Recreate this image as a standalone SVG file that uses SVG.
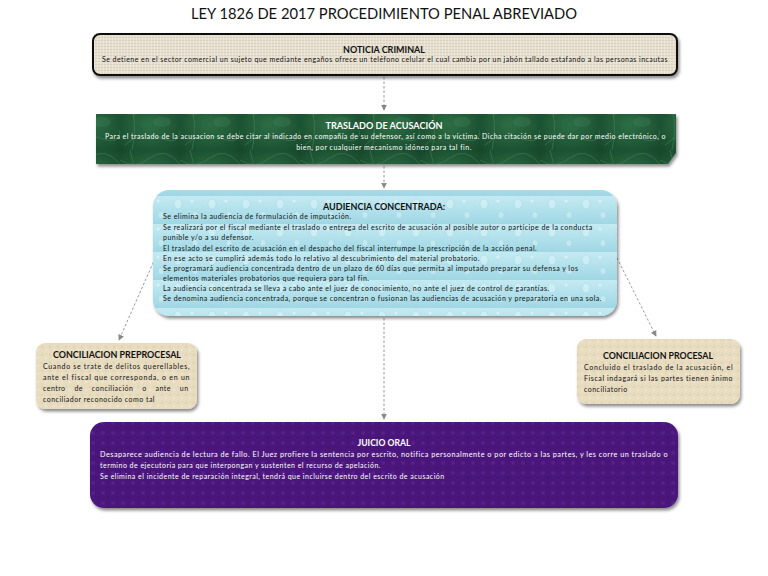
<svg xmlns="http://www.w3.org/2000/svg" width="768" height="576" viewBox="0 0 768 576">
<defs>
<style>
.t{font-family:Lato,"Open Sans","Liberation Sans",sans-serif;font-weight:bold;font-size:9px;fill:#111;}
.b{font-family:Lato,"Open Sans","Liberation Sans",sans-serif;font-size:7px;letter-spacing:0.47px;fill:#111;}
.w{fill:#fff;}
.con{fill:none;stroke:#9a9a9a;stroke-width:1;stroke-dasharray:2.5,2;}
</style>
<filter id="sh" x="-5%" y="-10%" width="110%" height="130%">
<feDropShadow dx="1.5" dy="2.5" stdDeviation="1.8" flood-color="#000" flood-opacity="0.45"/>
</filter>
<marker id="ar" viewBox="0 0 8 8" refX="7" refY="4" markerWidth="6" markerHeight="6" orient="auto" markerUnits="userSpaceOnUse">
<path d="M0,0 L8,4 L0,8 Z" fill="#8a8a8a"/>
</marker>
<pattern id="linen" width="6" height="6" patternUnits="userSpaceOnUse">
<rect width="6" height="6" fill="#e6dfcf"/>
<path d="M0,1.5H6M0,4.5H6" stroke="#d3cab4" stroke-width="0.7"/>
<path d="M1.5,0V6M4.5,0V6" stroke="#f2ede2" stroke-width="0.6"/>
</pattern>
<pattern id="parch" width="8" height="8" patternUnits="userSpaceOnUse">
<rect width="8" height="8" fill="#e8dcc0"/>
<circle cx="2" cy="3" r="1.4" fill="#dccfae" opacity="0.6"/>
<circle cx="6" cy="6" r="1.2" fill="#f1e8d3" opacity="0.7"/>
</pattern>
<radialGradient id="grn" cx="50%" cy="50%" r="70%">
<stop offset="0" stop-color="#2d6e45"/>
<stop offset="1" stop-color="#17482b"/>
</radialGradient>
<pattern id="marble" width="60" height="50" patternUnits="userSpaceOnUse">
<rect width="60" height="50" fill="url(#grn)"/>
<path d="M0,10 Q15,20 30,8 T60,14 M5,45 Q20,30 40,38 T60,30 M10,0 Q18,25 12,50" stroke="#4f8d63" stroke-width="0.8" fill="none" opacity="0.55"/>
<ellipse cx="42" cy="22" rx="9" ry="5" fill="#3f7d55" opacity="0.35"/>
</pattern>
<linearGradient id="blu" x1="0" y1="0" x2="0" y2="1">
<stop offset="0" stop-color="#c4eaf2"/>
<stop offset="1" stop-color="#9fd7e4"/>
</linearGradient>
<pattern id="drops" width="34" height="28" patternUnits="userSpaceOnUse">
<rect width="34" height="28" fill="url(#blu)"/>
<ellipse cx="8" cy="8" rx="4" ry="5" fill="#d9f3f8" opacity="0.6" stroke="#8ccbd9" stroke-width="0.5"/>
<ellipse cx="25" cy="19" rx="3" ry="3.5" fill="#d9f3f8" opacity="0.5" stroke="#8ccbd9" stroke-width="0.5"/>
<circle cx="22" cy="5" r="1.5" fill="#e6f8fb" opacity="0.6"/>
</pattern>
<pattern id="felt" width="10" height="10" patternUnits="userSpaceOnUse">
<rect width="10" height="10" fill="#4b197c"/>
<circle cx="3" cy="3" r="2" fill="#5a2590" opacity="0.6"/>
<circle cx="8" cy="7" r="1.6" fill="#3d116a" opacity="0.6"/>
</pattern>
</defs>
<rect width="768" height="576" fill="#ffffff"/>
<text x="384" y="19" text-anchor="middle" font-family="Lato,'Open Sans','Liberation Sans',sans-serif" font-size="15.5" fill="#111" textLength="386" lengthAdjust="spacingAndGlyphs">LEY 1826 DE 2017 PROCEDIMIENTO PENAL ABREVIADO</text>

<g id="connectors">
<path class="con" d="M384,77 L384,110" marker-end="url(#ar)"/>
<path class="con" d="M384,166 L384,188" marker-end="url(#ar)"/>
<path class="con" d="M384,318 L384,419" marker-end="url(#ar)"/>
<path class="con" d="M157,254 L119,340" marker-end="url(#ar)"/>
<path class="con" d="M615,254 L656,336" marker-end="url(#ar)"/>
</g>

<g id="noticia">
<rect x="93" y="34" width="584" height="41" rx="7" fill="url(#linen)" stroke="#111" stroke-width="2" filter="url(#sh)"/>
<text class="t" x="384" y="52.5" text-anchor="middle" textLength="82" lengthAdjust="spacingAndGlyphs">NOTICIA CRIMINAL</text>
<text class="b" x="102" y="62" textLength="566" lengthAdjust="spacingAndGlyphs">Se detiene en el sector comercial un sujeto que mediante engaños ofrece un teléfono celular el cual cambia por un jabón tallado estafando a las personas incautas</text>
</g>

<g id="traslado">
<path d="M96,114 H676 V153 L668,164 H96 Z" fill="url(#marble)" filter="url(#sh)"/>
<text class="t w" x="384" y="128.5" text-anchor="middle" textLength="117" lengthAdjust="spacingAndGlyphs">TRASLADO DE ACUSACIÓN</text>
<text class="b w" x="105" y="139" textLength="561" lengthAdjust="spacingAndGlyphs">Para el traslado de la acusacion se debe citar al indicado en compañía de su defensor, así como a la víctima. Dicha citación se puede dar por medio electrónico, o</text>
<text class="b w" x="384" y="150" text-anchor="middle">bien, por cualquier mecanismo idóneo para tal fin.</text>
</g>

<g id="audiencia">
<rect x="153" y="190" width="464" height="126" rx="16" fill="url(#drops)" filter="url(#sh)"/>
<text class="t" x="384" y="210" text-anchor="middle" textLength="122" lengthAdjust="spacingAndGlyphs">AUDIENCIA CONCENTRADA:</text>
<text class="b" x="163" y="219">Se elimina la audiencia de formulación de imputación.</text>
<text class="b" x="163" y="229.5">Se realizará por el fiscal mediante el traslado o entrega del escrito de acusación al posible autor o partícipe de la conducta</text>
<text class="b" x="163" y="240">punible y/o a su defensor.</text>
<text class="b" x="163" y="250.5">El traslado del escrito de acusación en el despacho del fiscal interrumpe la prescripción de la acción penal.</text>
<text class="b" x="163" y="260.5">En ese acto se cumplirá además todo lo relativo al descubrimiento del material probatorio.</text>
<text class="b" x="163" y="270.5">Se programará audiencia concentrada dentro de un plazo de 60 días que permita al imputado preparar su defensa y los</text>
<text class="b" x="163" y="280.5">elementos materiales probatorios que requiera para tal fin.</text>
<text class="b" x="163" y="290.5">La audiencia concentrada se lleva a cabo ante el juez de conocimiento, no ante el juez de control de garantías.</text>
<text class="b" x="163" y="301">Se denomina audiencia concentrada, porque se concentran o fusionan las audiencias de acusación y preparatoria en una sola.</text>
</g>

<g id="preprocesal">
<rect x="36" y="343" width="161" height="66" rx="9" fill="url(#parch)" filter="url(#sh)"/>
<text class="t" x="117" y="357.5" text-anchor="middle" textLength="128" lengthAdjust="spacingAndGlyphs">CONCILIACION PREPROCESAL</text>
<text class="b" x="43" y="368.5" textLength="147" lengthAdjust="spacing">Cuando se trate de delitos querellables,</text>
<text class="b" x="43" y="379.5" textLength="147" lengthAdjust="spacing">ante el fiscal que corresponda, o en un</text>
<text class="b" x="43" y="390.5" word-spacing="6.6">centro de conciliación o ante un</text>
<text class="b" x="43" y="401.5">conciliador reconocido como tal</text>
</g>

<g id="procesal">
<rect x="577" y="339" width="163" height="65" rx="9" fill="url(#parch)" filter="url(#sh)"/>
<text class="t" x="658" y="358.5" text-anchor="middle" textLength="110" lengthAdjust="spacingAndGlyphs">CONCILIACION PROCESAL</text>
<text class="b" x="584" y="370" textLength="149" lengthAdjust="spacing">Concluido el traslado de la acusación, el</text>
<text class="b" x="584" y="381" textLength="149" lengthAdjust="spacing">Fiscal indagará si las partes tienen ánimo</text>
<text class="b" x="584" y="392">conciliatorio</text>
</g>

<g id="juicio">
<rect x="90" y="422" width="588" height="86" rx="14" fill="url(#felt)" filter="url(#sh)"/>
<text class="t w" x="384" y="446" text-anchor="middle" textLength="53" lengthAdjust="spacingAndGlyphs">JUICIO ORAL</text>
<text class="b w" x="100" y="456.5" textLength="568" lengthAdjust="spacingAndGlyphs">Desaparece audiencia de lectura de fallo. El Juez profiere la sentencia por escrito, notifica personalmente o por edicto a las partes, y les corre un traslado o</text>
<text class="b w" x="100" y="467.5">termino de ejecutoria para que interpongan y sustenten el recurso de apelación.</text>
<text class="b w" x="100" y="478.5">Se elimina el incidente de reparación integral, tendrá que incluirse dentro del escrito de acusación</text>
</g>
</svg>
